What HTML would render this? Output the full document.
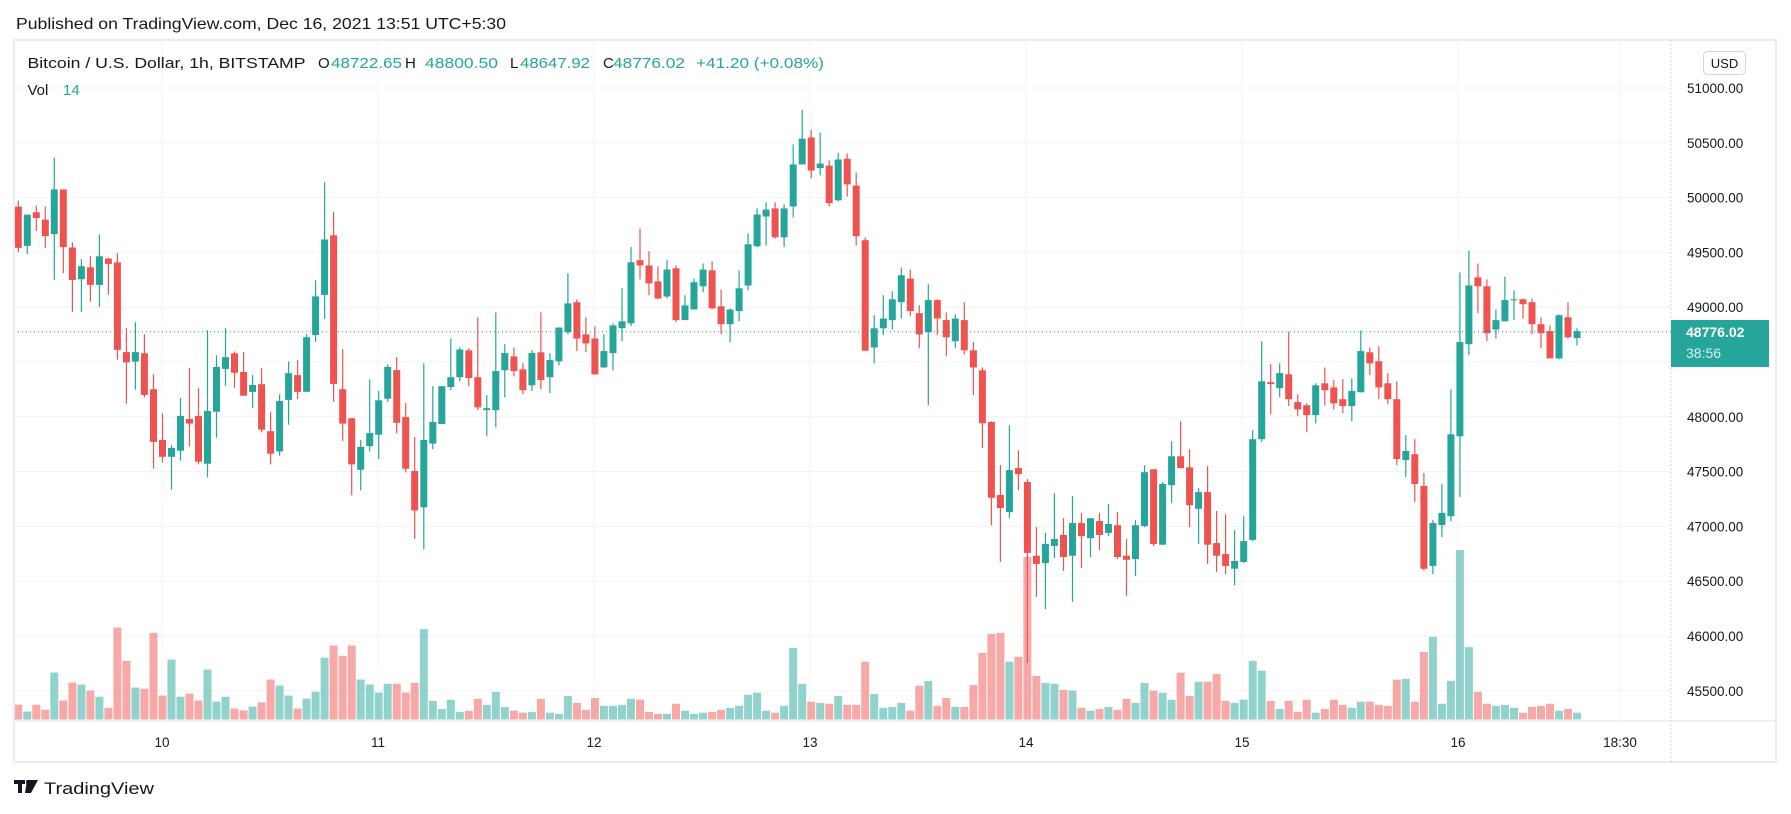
<!DOCTYPE html>
<html><head><meta charset="utf-8"><style>
html,body{margin:0;padding:0;background:#fff;}
svg{display:block;font-family:"Liberation Sans",sans-serif;}
</style></head><body>
<svg id="s" width="1791" height="814" xmlns="http://www.w3.org/2000/svg">
<rect width="1791" height="814" fill="#fff"/>
<g id="grid"></g>
<g id="vol"></g>
<g id="cdl"></g>
<line x1="14" y1="331.7" x2="1671" y2="331.7" stroke="#26a69a" stroke-width="1" stroke-dasharray="1,3"/>
<rect x="14" y="40" width="1762" height="722" fill="none" stroke="#e9ecf2" stroke-width="2"/>
<line x1="1671" y1="40" x2="1671" y2="762" stroke="#d1d4dc" stroke-dasharray="2,2"/>
<line x1="14" y1="721" x2="1776" y2="721" stroke="#e0e3eb"/>
<text x="16" y="29" font-size="16" fill="#131722" textLength="490" lengthAdjust="spacingAndGlyphs">Published on TradingView.com, Dec 16, 2021 13:51 UTC+5:30</text>
<g font-size="15" fill="#131722">
<text x="27.5" y="68" textLength="278" lengthAdjust="spacingAndGlyphs">Bitcoin / U.S. Dollar, 1h, BITSTAMP</text>
<text x="318" y="68">O</text><text x="331" y="68" fill="#26a69a" textLength="71" lengthAdjust="spacingAndGlyphs">48722.65</text>
<text x="405" y="68">H</text><text x="425" y="68" fill="#26a69a" textLength="73" lengthAdjust="spacingAndGlyphs">48800.50</text>
<text x="510" y="68">L</text><text x="520" y="68" fill="#26a69a" textLength="70" lengthAdjust="spacingAndGlyphs">48647.92</text>
<text x="603" y="68">C</text><text x="613" y="68" fill="#26a69a" textLength="72" lengthAdjust="spacingAndGlyphs">48776.02</text>
<text x="696" y="68" fill="#26a69a" textLength="128" lengthAdjust="spacingAndGlyphs">+41.20 (+0.08%)</text>
<text x="27.5" y="95">Vol</text><text x="63" y="95" fill="#26a69a">14</text>
</g>
<rect x="1703.5" y="51.5" width="42" height="23" rx="4" fill="#fff" stroke="#d1d4dc"/>
<text x="1724.5" y="68" font-size="13" fill="#131722" text-anchor="middle">USD</text>
<g id="pl" font-size="13.5" fill="#131722"></g>
<rect x="1671" y="320" width="98" height="47" fill="#26a69a"/>
<text x="1686" y="337" font-size="14" font-weight="bold" fill="#fff">48776.02</text>
<text x="1686" y="358" font-size="14" fill="#d6f0ed">38:56</text>
<g font-size="13.5" fill="#131722" text-anchor="middle">
<text x="162" y="747">10</text><text x="378" y="747">11</text><text x="594" y="747">12</text><text x="810" y="747">13</text><text x="1026" y="747">14</text><text x="1242" y="747">15</text><text x="1458" y="747">16</text><text x="1620" y="747">18:30</text>
</g>
<g fill="#131722">
<rect x="14" y="780" width="11" height="4"/><rect x="18" y="780" width="4" height="13"/>
<polygon points="27,780 38,780 31,793 25,793"/><circle cx="28" cy="782" r="2"/>
<text x="44" y="794" font-size="17" textLength="110" lengthAdjust="spacingAndGlyphs">TradingView</text>
</g>
</svg>
<script>
var A=`r 199 307 183 318
g 302 220 220 323
r 214 229 196 263
r 233 276 199 307
g 271 154 71 391
r 154 305 154 373
r 306 391 293 475
g 389 355 337 475
r 358 404 329 448
g 404 329 272 462
r 335 349 332 430
r 345 574 321 600
r 580 607 517 715
g 605 580 502 678
r 583 692 533 699
r 677 815 638 885
r 810 854 740 869
g 854 831 823 940
g 838 747 700 864
r 755 767 622 827
r 747 867 674 874
g 872 734 523 908
g 736 619 588 804
g 624 593 517 668
r 583 634 578 673
r 632 694 580 694
g 684 666 640 726
r 664 783 622 790
r 787 846 737 874
g 840 708 690 851
g 705 635 604 770
r 640 684 601 703
g 684 541 533 684
g 535 434 392 553
g 430 285 135 493
r 274 663 213 710
r 677 767 572 812
r 753 874 753 955
g 888 828 810 942
g 826 792 651 840
g 796 706 682 860
g 702 619 612 710
r 627 765 593 793
r 750 885 713 895`;
var VA=[1503,1521,1503,1516,1419,1492,1445,1450,1466,1482,1511,1301,1388,1458,1461,1315,1479,1385,1482,1474,1492,1411,1495,1482,1513,1518,1508,1497,1437,1453,1479,1513,1487,1469,1380,1348,1375,1348,1437,1450,1471,1448,1448,1471];
var B=`r 933 1030 850 1100
g 1022 857 669 1125
g 866 813 725 880
g 818 725 725 818
g 727 703 608 735
g 703 635 630 713
r 637 705 632 725
r 703 777 556 784
g 784 779 747 848
g 784 688 544 826
g 686 644 622 752
r 652 688 630 701
r 684 735 669 745
g 723 644 637 737
r 642 710 544 733
g 703 661 644 742
g 664 581 581 674
g 593 522 448 598
r 519 608 512 639
r 598 620 556 642
r 608 696 578 696
g 679 639 598 681
g 644 576 571 686
g 583 566 485 615
g 571 421 384 578
r 416 429 338 463
r 429 473 394 502
r 468 510 431 512
g 505 439 416 510
r 436 563 429 568
g 563 527 502 563
g 537 470 461 537
g 480 439 424 495
r 441 534 419 537
r 529 573 488 598
g 573 537 534 617
g 541 485 441 566
g 478 377 350 490
g 382 304 289 384
g 309 292 274 380
r 289 360 274 363
g 360 289 279 384
g 284 181 132 311
g 181 118 47 181
r 115 196 96 215
g 190 179 103 208
r 184 276 171 284
g 269 169 152 271
r 167 230 154 260
r 233 357 201 380
r 367 638 360 638
g 630 583 551 669
g 583 559 502 600
g 563 512 492 586
g 519 453 434 559
r 461 541 439 554
r 546 598 527 632
g 593 514 475 772
r 514 559 512 600
r 563 605 544 652
g 615 559 549 632
r 563 637 519 647
r 637 679 617 747
r 686 816 679 877
r 813 999 811 1066
r 992 1024 919 1156
g 1034 931 821 1049
r 926 941 882 980
r 960 1134 953 1404
r 1141 1161 1071 1242
g 1159 1112 1085 1272
g 1117 1100 987 1147
r 1090 1144 1049 1178
g 1141 1061 995 1254
r 1061 1093 1036 1171
g 1098 1049 1049 1144
r 1056 1090 1036 1127
g 1085 1063 1014 1093
r 1066 1144 1034 1149
r 1141 1151 1100 1240
g 1149 1066 1053 1191
g 1068 936 919 1071
r 929 1112 929 1117
g 1114 965 960 1114
g 968 897 860 1012
r 897 926 811 926
r 924 1017 880 1071
g 1026 985 975 1112
r 985 1114 921 1161
r 1110 1141 1031 1181
r 1137 1166 1039 1186
g 1173 1154 1078 1213
g 1156 1105 1044 1159
g 1102 855 833 1105
g 855 713 615 862
r 715 720 671 794
g 730 693 669 752
r 696 757 591 774
r 764 782 745 799
r 772 796 767 838
g 796 723 718 816
r 718 735 679 772
r 728 767 710 782
r 757 774 708 791
g 774 737 706 811
g 740 639 588 740
r 642 669 630 698
r 664 728 627 757
r 718 757 693 769
r 757 904 713 919
g 906 884 845 948
r 892 965 855 1009
r 970 1173 938 1178
g 1166 1061 1053 1186
g 1066 1036 965 1095
g 1044 843 733 1056
g 848 617 446 997
g 622 478 392 649
r 458 480 424 546
r 480 595 463 615
g 586 563 537 608
g 566 514 456 566
g 514 512 490 563
r 512 524 510 559
r 519 573 510 598
r 573 595 556 632
r 590 657 576 657
g 657 551 549 659
r 556 605 519 608
g 607 590 583 625`;
var VB=[1453,1321,1497,1517,1494,1524,1521,1492,1507,1475,1512,1521,1526,1524,1492,1526,1529,1485,1502,1519,1490,1509,1509,1507,1492,1494,1524,1529,1529,1504,1521,1529,1526,1524,1519,1514,1509,1482,1477,1521,1526,1509,1367,1455,1499,1502,1504,1485,1507,1507,1401,1480,1514,1512,1502,1521,1460,1448,1509,1490,1512,1512,1458,1379,1333,1330,1401,1389,1144,1436,1453,1455,1470,1472,1514,1521,1517,1512,1519,1492,1502,1453,1472,1477,1494,1428,1485,1450,1450,1431,1497,1502,1494,1399,1423,1497,1517,1497,1524,1494,1526,1517,1494,1507,1514,1499,1499,1507,1509,1445,1443,1499,1377,1340,1504,1448,1127,1365,1475,1504,1509,1507,1514,1526,1512,1509,1504,1521,1517,1526];
var G='#26a69a',R='#ef5350';
var c='',v='',g='',p='';
function add(rows,vols,y0,sy,start){
  rows.trim().split('\n').forEach(function(line,k){
    var a=line.trim().split(/\s+/),col=a[0]=='g'?G:R;
    var o=y0+(+a[1])/sy,cl=y0+(+a[2])/sy,h=y0+(+a[3])/sy,l=y0+(+a[4])/sy;
    var i=start+k,x=18.3+i*9.01;
    var top=Math.min(o,cl),ht=Math.max(1,Math.abs(o-cl));
    c+='<line x1="'+x.toFixed(1)+'" y1="'+h.toFixed(1)+'" x2="'+x.toFixed(1)+'" y2="'+l.toFixed(1)+'" stroke="'+col+'" stroke-width="1.2"/>';
    c+='<rect x="'+(x-3.5).toFixed(1)+'" y="'+top.toFixed(1)+'" width="7" height="'+ht.toFixed(1)+'" fill="'+col+'"/>';
    var vt=y0+vols[k]/sy;
    v+='<rect x="'+(x-4).toFixed(1)+'" y="'+vt.toFixed(1)+'" width="8" height="'+(719.5-vt).toFixed(1)+'" fill="'+col+'" fill-opacity="0.5"/>';
  });
}
add(A,VA,130.6,2.618,0);
add(B,VB,90.6,2.453,44);
for(var k=0;k<12;k++){var y=88+k*54.8;
  g+='<line x1="14" y1="'+y.toFixed(1)+'" x2="1671" y2="'+y.toFixed(1)+'" stroke="#f0f3fa"/>';
  p+='<text x="1687" y="'+(y+5).toFixed(1)+'">'+(51000-k*500)+'.00</text>';}
[162,378,594,810,1026,1242,1458,1620].forEach(function(x){g+='<line x1="'+x+'" y1="40" x2="'+x+'" y2="721" stroke="#f0f3fa"/>';});
document.getElementById('grid').innerHTML=g;
document.getElementById('vol').innerHTML=v;
document.getElementById('cdl').innerHTML=c;
document.getElementById('pl').innerHTML=p;
</script>
</body></html>
